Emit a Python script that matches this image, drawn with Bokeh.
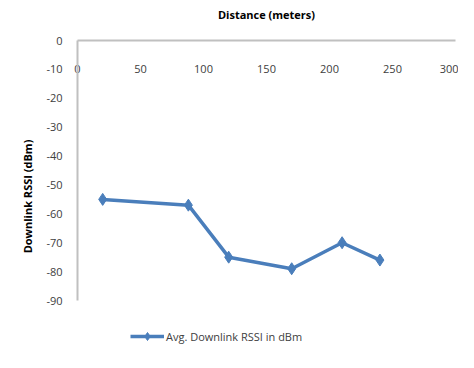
from bokeh.plotting import figure
from bokeh.models import Range1d, FixedTicker, Legend, LegendItem
from bokeh.embed import file_html
from bokeh.resources import INLINE

distance = [20, 88, 120, 170, 210, 240]
rssi = [-55, -57, -75, -79, -70, -76]
x_ticks = [0, 50, 100, 150, 200, 250, 300]
y_ticks = [0, -10, -20, -30, -40, -50, -60, -70, -80, -90]
series_name = "Avg. Downlink RSSI in dBm"
x_title = "Distance (meters)"
y_title = "Downlink RSSI (dBm)"

blue = "#4A7EBB"
font = "Open Sans"

p = figure(frame_width=378, frame_height=312, output_backend="svg", toolbar_location=None,
           x_range=Range1d(0, 300), y_range=Range1d(-108, 0),
           x_axis_location="above", min_border_left=77, min_border_top=40,
           min_border_right=3, min_border_bottom=0)
p.outline_line_color = None
p.xgrid.visible = False
p.ygrid.visible = False

ln = p.line(distance, rssi, line_color=blue, line_width=3.5)
mk = p.scatter(distance, rssi, marker="diamond", size=12, fill_color=blue, line_color=blue)

xa = p.xaxis[0]
xa.ticker = FixedTicker(ticks=x_ticks)
xa.major_label_overrides = {t: str(t) for t in x_ticks}
xa.axis_label = x_title
xa.axis_label_text_font = font
xa.axis_label_text_font_style = "bold"
xa.axis_label_text_font_size = "11px"
xa.axis_label_text_color = "#000000"
xa.axis_label_standoff = 40
xa.major_label_standoff = -38
xa.major_label_text_font = font
xa.major_label_text_font_size = "11px"
xa.major_label_text_color = "#404040"
xa.axis_line_color = "#C0C0C0"
xa.axis_line_width = 2
xa.major_tick_line_color = None
xa.minor_tick_line_color = None

ya = p.yaxis[0]
ya.ticker = FixedTicker(ticks=y_ticks)
ya.bounds = (y_ticks[-1], y_ticks[0])
ya.major_label_overrides = {t: str(t) for t in y_ticks}
ya.axis_label = y_title
ya.axis_label_text_font = font
ya.axis_label_text_font_style = "bold"
ya.axis_label_text_font_size = "11px"
ya.axis_label_text_color = "#000000"
ya.axis_label_standoff = 8
ya.major_label_standoff = 9
ya.major_label_text_font = font
ya.major_label_text_font_size = "11px"
ya.major_label_text_color = "#404040"
ya.axis_line_color = "#C0C0C0"
ya.axis_line_width = 2
ya.major_tick_line_color = None
ya.minor_tick_line_color = None

legend = Legend(items=[LegendItem(label=series_name, renderers=[ln, mk])],
                location=(53, 6), orientation="horizontal",
                border_line_color=None, background_fill_alpha=0,
                label_text_font=font, label_text_font_size="11px",
                label_text_color="#404040", glyph_width=34, label_standoff=2,
                padding=0, margin=0)
p.add_layout(legend, "center")

open("out.html", "w").write(file_html(p, INLINE))
